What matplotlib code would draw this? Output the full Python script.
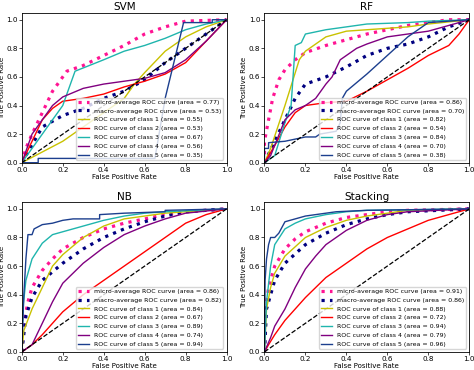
import numpy as np
import matplotlib
matplotlib.use('Agg')
import matplotlib.pyplot as plt

# ROC points, (fpr, tpr) per curve
models = ['SVM', 'RF', 'NB', 'Stacking']

svm_curves = {
    'micro': ([0, 0.02, 0.05, 0.1, 0.15, 0.2, 0.22, 0.3, 0.4, 0.5, 0.6, 0.7, 0.8, 1],
              [0, 0.1, 0.2, 0.35, 0.5, 0.6, 0.64, 0.68, 0.75, 0.82, 0.9, 0.95, 0.99, 1]),
    'macro': ([0, 0.1, 0.2, 0.3, 0.4, 0.5, 0.6, 0.7, 0.8, 0.9, 1],
              [0, 0.25, 0.33, 0.38, 0.45, 0.5, 0.58, 0.7, 0.8, 0.9, 1]),
    1: ([0, 0.2, 0.4, 0.5, 0.55, 0.6, 0.7, 0.8, 0.9, 1],
        [0, 0.15, 0.35, 0.45, 0.55, 0.63, 0.78, 0.88, 0.95, 1]),
    2: ([0, 0.05, 0.1, 0.15, 0.2, 0.3, 0.4, 0.5, 0.6, 0.7, 0.8, 0.9, 1],
        [0, 0.15, 0.3, 0.38, 0.43, 0.45, 0.48, 0.53, 0.57, 0.62, 0.7, 0.85, 1]),
    3: ([0, 0.1, 0.2, 0.26, 0.4, 0.5, 0.6, 0.7, 0.8, 0.9, 1],
        [0, 0.2, 0.4, 0.64, 0.72, 0.78, 0.82, 0.87, 0.93, 0.97, 1]),
    4: ([0, 0.05, 0.1, 0.15, 0.2, 0.3, 0.4, 0.5, 0.6, 0.7, 0.8, 0.9, 1],
        [0, 0.2, 0.3, 0.4, 0.46, 0.52, 0.55, 0.57, 0.59, 0.63, 0.72, 0.85, 1]),
    5: ([0, 0.08, 0.08, 0.65, 0.7, 0.79, 0.93, 0.93, 1],
        [0, 0, 0.03, 0.03, 0.45, 0.98, 0.98, 1, 1]),
}

rf_curves = {
    'micro': ([0, 0, 0.02, 0.04, 0.07, 0.1, 0.15, 0.2, 0.3, 0.4, 0.5, 0.6, 0.7, 0.8, 0.9, 1],
              [0, 0.15, 0.3, 0.45, 0.58, 0.65, 0.72, 0.77, 0.82, 0.86, 0.9, 0.93, 0.96, 0.98, 1, 1]),
    'macro': ([0, 0.05, 0.1, 0.15, 0.2, 0.3, 0.4, 0.5, 0.6, 0.7, 0.8, 0.9, 1],
              [0, 0.15, 0.3, 0.45, 0.55, 0.6, 0.67, 0.75, 0.8, 0.83, 0.88, 0.95, 1]),
    1: ([0, 0.03, 0.1, 0.17, 0.2, 0.3, 0.4, 0.5, 0.7, 0.8, 1],
        [0, 0.1, 0.4, 0.72, 0.78, 0.88, 0.92, 0.93, 0.95, 0.97, 1]),
    2: ([0, 0.05, 0.1, 0.15, 0.2, 0.3, 0.4, 0.5, 0.6, 0.7, 0.8, 0.9, 0.95, 1],
        [0, 0.12, 0.25, 0.35, 0.4, 0.42, 0.43, 0.5, 0.58, 0.66, 0.75, 0.82, 0.9, 1]),
    3: ([0, 0.05, 0.1, 0.13, 0.15, 0.18, 0.2, 0.3, 0.4, 0.5, 0.7, 0.8, 1],
        [0, 0.05, 0.28, 0.4, 0.82, 0.84, 0.9, 0.93, 0.95, 0.97, 0.98, 0.99, 1]),
    4: ([0, 0.03, 0.1, 0.15, 0.2, 0.25, 0.3, 0.33, 0.37, 0.45, 0.5, 0.6, 0.7, 0.8, 1],
        [0, 0.05, 0.3, 0.37, 0.4, 0.45, 0.55, 0.6, 0.72, 0.8, 0.83, 0.88, 0.9, 0.92, 1]),
    5: ([0, 0, 0.02, 0.02, 0.1, 0.2, 0.25, 0.27, 0.35, 0.37, 0.38, 0.4, 0.5, 0.6, 0.7, 0.8, 1],
        [0, 0.1, 0.1, 0.14, 0.15, 0.18, 0.18, 0.2, 0.22, 0.28, 0.45, 0.5, 0.62, 0.75, 0.88, 0.98, 1]),
}

nb_curves = {
    'micro': ([0, 0.01, 0.03, 0.05, 0.1, 0.15, 0.2, 0.3, 0.4, 0.5, 0.6, 0.7, 0.8, 1],
              [0, 0.2, 0.35, 0.45, 0.57, 0.65, 0.72, 0.8, 0.86, 0.9, 0.93, 0.96, 0.98, 1]),
    'macro': ([0, 0.02, 0.05, 0.1, 0.2, 0.3, 0.4, 0.5, 0.6, 0.7, 0.8, 1],
              [0, 0.25, 0.38, 0.5, 0.62, 0.72, 0.8, 0.86, 0.91, 0.95, 0.98, 1]),
    1: ([0, 0.01, 0.05, 0.1, 0.15, 0.2, 0.3, 0.4, 0.5, 0.6, 0.7, 0.8, 1],
        [0, 0.15, 0.3, 0.45, 0.6, 0.68, 0.8, 0.88, 0.93, 0.95, 0.97, 0.98, 1]),
    2: ([0, 0.05, 0.1, 0.15, 0.2, 0.3, 0.4, 0.5, 0.6, 0.7, 0.8, 0.9, 1],
        [0, 0.05, 0.12, 0.2, 0.28, 0.4, 0.5, 0.6, 0.7, 0.8, 0.9, 0.96, 1]),
    3: ([0, 0.005, 0.02, 0.05, 0.1, 0.15, 0.2, 0.3, 0.4, 0.5, 0.6, 0.7, 1],
        [0, 0.3, 0.5, 0.65, 0.76, 0.82, 0.84, 0.88, 0.92, 0.95, 0.97, 0.98, 1]),
    4: ([0, 0.05, 0.1, 0.15, 0.2, 0.3, 0.4, 0.5, 0.6, 0.7, 0.8, 1],
        [0, 0.05, 0.2, 0.35, 0.48, 0.62, 0.73, 0.82, 0.88, 0.93, 0.97, 1]),
    5: ([0, 0.01, 0.02, 0.03, 0.05, 0.06, 0.1, 0.15, 0.2, 0.25, 0.38, 0.38, 0.5, 0.7, 0.7, 1],
        [0, 0.4, 0.65, 0.82, 0.82, 0.86, 0.89, 0.9, 0.92, 0.93, 0.93, 0.96, 0.97, 0.98, 0.99, 1]),
}

stack_curves = {
    'micro': ([0, 0.005, 0.02, 0.05, 0.1, 0.15, 0.2, 0.3, 0.4, 0.5, 0.6, 0.7, 1],
              [0, 0.3, 0.45, 0.6, 0.72, 0.79, 0.84, 0.9, 0.94, 0.96, 0.98, 0.99, 1]),
    'macro': ([0, 0.01, 0.05, 0.1, 0.2, 0.3, 0.4, 0.5, 0.6, 0.7, 1],
              [0, 0.3, 0.5, 0.62, 0.75, 0.83, 0.89, 0.93, 0.96, 0.98, 1]),
    1: ([0, 0.01, 0.03, 0.05, 0.1, 0.2, 0.3, 0.4, 0.5, 0.6, 0.7, 1],
        [0, 0.3, 0.45, 0.55, 0.67, 0.8, 0.87, 0.92, 0.95, 0.97, 0.99, 1]),
    2: ([0, 0.02, 0.05, 0.1, 0.15, 0.2, 0.3, 0.4, 0.5, 0.6, 0.7, 0.8, 0.9, 1],
        [0, 0.05, 0.12, 0.22, 0.3, 0.38, 0.52, 0.62, 0.72, 0.8, 0.86, 0.92, 0.96, 1]),
    3: ([0, 0.01, 0.03, 0.05, 0.1, 0.15, 0.2, 0.3, 0.4, 0.5, 1],
        [0, 0.35, 0.6, 0.75, 0.86, 0.9, 0.93, 0.96, 0.98, 0.99, 1]),
    4: ([0, 0.03, 0.05, 0.1, 0.15, 0.2, 0.25, 0.3, 0.4, 0.5, 0.6, 0.7, 1],
        [0, 0.1, 0.18, 0.3, 0.45, 0.58, 0.67, 0.75, 0.85, 0.92, 0.96, 0.98, 1]),
    5: ([0, 0.003, 0.01, 0.02, 0.03, 0.05, 0.07, 0.1, 0.15, 0.2, 0.3, 0.35, 0.5, 1],
        [0, 0.5, 0.65, 0.75, 0.8, 0.8, 0.83, 0.91, 0.93, 0.95, 0.97, 0.98, 0.99, 1]),
}

# areas from the legends: micro, macro, class 1..5
svm_auc = [0.77, 0.53, 0.55, 0.53, 0.67, 0.56, 0.35]
rf_auc = [0.86, 0.70, 0.82, 0.54, 0.84, 0.70, 0.38]
nb_auc = [0.86, 0.82, 0.84, 0.67, 0.89, 0.74, 0.94]
stack_auc = [0.91, 0.86, 0.88, 0.72, 0.94, 0.79, 0.96]

all_curves = [svm_curves, rf_curves, nb_curves, stack_curves]
all_auc = [svm_auc, rf_auc, nb_auc, stack_auc]

class_colors = ['#c9c200', 'red', '#1fb5ad', 'purple', '#1c3f8e']

fig, axes = plt.subplots(2, 2, figsize=(4.74, 3.70), dpi=100)
plt.subplots_adjust(left=0.046, right=0.99, top=0.966, bottom=0.049,
                    wspace=0.185, hspace=0.26)

for ax, name, curves, auc in zip(axes.flat, models, all_curves, all_auc):
    ax.plot(*curves['micro'], color='deeppink', linestyle=':', linewidth=2.3,
            label='micro-average ROC curve (area = {0:0.2f})'.format(auc[0]))
    ax.plot(*curves['macro'], color='navy', linestyle=':', linewidth=2.3,
            label='macro-average ROC curve (area = {0:0.2f})'.format(auc[1]))
    for i in range(5):
        ax.plot(*curves[i + 1], color=class_colors[i], linewidth=1.0,
                label='ROC curve of class {0} (area = {1:0.2f})'.format(i + 1, auc[i + 2]))
    ax.plot([0, 1], [0, 1], 'k--', linewidth=0.9)
    ax.set_xlim([0.0, 1.0])
    ax.set_ylim([0.0, 1.05])
    ax.set_title(name, fontsize=7.5, pad=1.5)
    ax.set_xlabel('False Positive Rate', fontsize=5, labelpad=1)
    ax.set_ylabel('True Positive Rate', fontsize=5, labelpad=1)
    ax.tick_params(labelsize=5.2, length=2, width=0.5, pad=1)
    for s in ax.spines.values():
        s.set_linewidth(0.6)
    ax.legend(loc='lower right', fontsize=4.5, handlelength=1.8,
              borderpad=0.3, labelspacing=0.55, framealpha=0.8)

plt.savefig('out.png', dpi=100)
